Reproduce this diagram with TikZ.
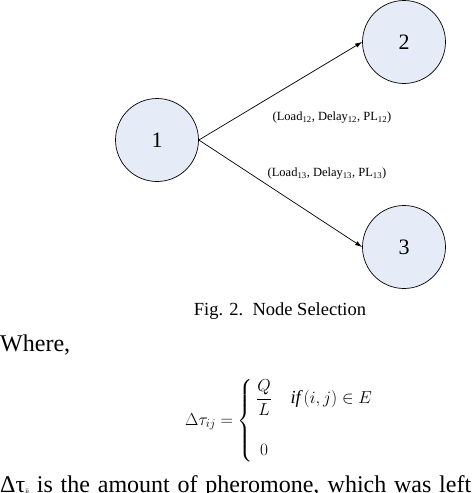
\documentclass[tikz,border=0pt]{standalone}
\usepackage{amsmath}
\usepackage{fontspec}
\setmainfont{Liberation Serif}
\usetikzlibrary{positioning,arrows.meta}
\definecolor{nodefill}{RGB}{230,236,247}
\tikzset{
  linkarrow/.style={-{Latex[length=7pt,width=4.5pt]}, line width=0.7pt},
  netnode/.style={draw, circle, line width=0.7pt, fill=nodefill, minimum size=83pt, inner sep=0pt, font=\fontsize{22}{24}\selectfont},
  linklabel/.style={font=\fontsize{12.5}{14}\selectfont, inner sep=0pt},
  bodytext/.style={font=\fontsize{24}{28}\selectfont, inner sep=0pt}
}

\begin{document}
\begin{tikzpicture}[x=1pt, y=-1pt]
  \clip (0,0) rectangle (474,493);
  % the three nodes
  \node[netnode] (n1) at (157,140) {1};
  \node[netnode] (n2) at (404,42) {2};
  \node[netnode] (n3) at (404,247) {3};
  \draw[linkarrow] (n1.east) -- (n2.west);
  \draw[linkarrow] (n1.east) -- (n3.west);
  \node[linklabel] (lab12) at (332,118) {(Load\textsubscript{12}, Delay\textsubscript{12}, PL\textsubscript{12})};
  \node[linklabel] (lab13) at (327,174) {(Load\textsubscript{13}, Delay\textsubscript{13}, PL\textsubscript{13})};
  % caption and text below
  \node[font=\fontsize{18.5}{22}\selectfont, inner sep=0pt] (caption) at (280,311) {Fig. 2.\ \ Node Selection};
  \node[bodytext, anchor=west] (where) at (0,345) {Where,};
  \node[font=\fontsize{18.5}{22}\selectfont, inner sep=0pt, anchor=west] (eqn) at (185,421)
    {$\Delta\tau_{ij} = \left\{\begin{array}{@{\,}c@{\quad}l} \dfrac{Q}{L} & \mathit{if}\,(i,j)\in E\\[30pt] 0 & \end{array}\right.$};
  \node[bodytext, anchor=base west] (lastline) at (0,492)
    {\makebox[471pt][s]{Δτ\raisebox{-1pt}{\scriptsize ij} is the amount of pheromone, which was left}};
\end{tikzpicture}
\end{document}
